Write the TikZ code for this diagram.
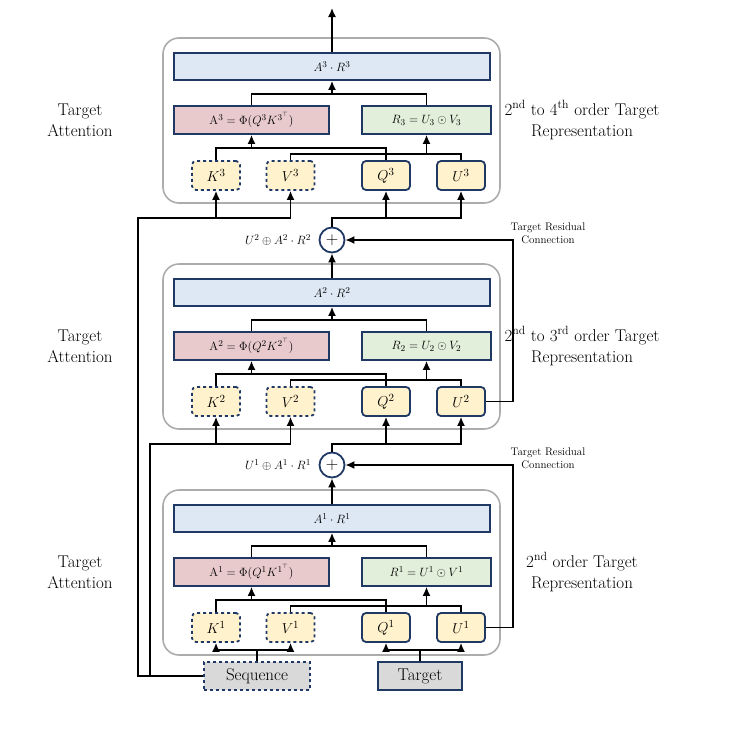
\documentclass[tikz,border=0pt]{standalone}
\usepackage{amsmath,amssymb}
\usetikzlibrary{arrows.meta}
\definecolor{navy}{HTML}{1F3864}
\definecolor{fblue}{HTML}{DDE8F4}
\definecolor{fred}{HTML}{E8CACD}
\definecolor{fgreen}{HTML}{E2EFDA}
\definecolor{fyel}{HTML}{FFF2CC}
\definecolor{fgray}{HTML}{D9D9D9}
\begin{document}
\begin{tikzpicture}[x=1pt,y=-1pt,line width=1.5pt,
 bx/.style={draw=navy,line width=1.8pt,inner sep=0pt,font=\fontsize{13}{15}\selectfont},
 tok/.style={bx,fill=fyel,rounded corners=4pt,minimum width=48pt,minimum height=29pt,font=\fontsize{15}{17}\selectfont},
 dtok/.style={tok,dashed},
 outer/.style={draw=gray!65,line width=1.6pt,rounded corners=16pt},
 arr/.style={-{Latex[length=9pt,width=8pt]}},
 side/.style={align=center,font=\fontsize{17}{21}\selectfont},
 small/.style={align=center,font=\fontsize{11}{13}\selectfont}]
\useasboundingbox (0,0) rectangle (736,736);
\foreach \i/\o/\rr/\rt in {3/0/{R_3 = U_3 \odot V_3}/{2\textsuperscript{nd} to 4\textsuperscript{th} order Target\\Representation},
                     2/226/{R_2 = U_2 \odot V_2}/{2\textsuperscript{nd} to 3\textsuperscript{rd} order Target\\Representation},
                     1/452/{R^1 = U^1 \odot V^1}/{2\textsuperscript{nd} order Target\\Representation}}{
 \node[outer,minimum width=337pt,minimum height=165pt] (O\i) at (331.5,120.5+\o) {};
 \node[bx,fill=fblue,minimum width=316pt,minimum height=27pt] (B\i) at (332,66.5+\o) {$A^{\i}\cdot R^{\i}$};
 \node[bx,fill=fred,minimum width=155pt,minimum height=28pt] (A\i) at (251.5,120+\o) {$\mathrm{A}^{\i} = \Phi(Q^{\i}K^{\i^{\top}})$};
 \node[bx,fill=fgreen,minimum width=129pt,minimum height=28pt] (R\i) at (426.5,120+\o) {$\rr$};
 \node[dtok] (K\i) at (216,175.5+\o) {$K^{\i}$};
 \node[dtok] (V\i) at (290.5,175.5+\o) {$V^{\i}$};
 \node[tok] (Q\i) at (386,175.5+\o) {$Q^{\i}$};
 \node[tok] (U\i) at (461,175.5+\o) {$U^{\i}$};
 \node[side] (TA\i) at (80,120+\o) {Target\\Attention};
 \node[side] (TR\i) at (582,120+\o) {\rt};
 \coordinate (j1\i) at (0,148+\o);
 \coordinate (j2\i) at (0,154+\o);
 \coordinate (j3\i) at (0,94+\o);
 \draw (K\i.north) |- (Q\i.north |- j1\i) -- (Q\i.north);
 \draw[arr] (A\i.south |- j1\i) -- (A\i.south);
 \draw (V\i.north) |- (U\i.north |- j2\i) -- (U\i.north);
 \draw[arr] (R\i.south |- j2\i) -- (R\i.south);
 \draw (A\i.north) |- (R\i.north |- j3\i) -- (R\i.north);
 \draw[arr] (B\i.south |- j3\i) -- (B\i.south);
}
\node[circle,draw=navy,line width=1.8pt,minimum size=25pt,inner sep=0pt,font=\LARGE] (P2) at (332,240) {$+$};
\node[circle,draw=navy,line width=1.8pt,minimum size=25pt,inner sep=0pt,font=\LARGE] (P1) at (332,465) {$+$};
\node[anchor=east,font=\fontsize{13}{15}\selectfont] (L2) at (P2.west) {$U^2\oplus A^2\cdot R^2$\;};
\node[anchor=east,font=\fontsize{13}{15}\selectfont] (L1) at (P1.west) {$U^1\oplus A^1\cdot R^1$\;};
\node[small] (C2) at (548,233) {Target Residual\\Connection};
\node[small] (C1) at (548,458) {Target Residual\\Connection};
\node[bx,fill=fgray,dashed,minimum width=106pt,minimum height=28pt,font=\fontsize{17}{19}\selectfont] (S) at (257,676) {Sequence};
\node[bx,fill=fgray,minimum width=84pt,minimum height=28pt,font=\fontsize{17}{19}\selectfont] (T) at (420,676) {Target};
\coordinate (top) at (332,8);
\draw[arr] (B3.north) -- (top);
\draw[arr] (B1.north) -- (P1.south);
\draw[arr] (B2.north) -- (P2.south);
\coordinate (h3) at (0,218); \coordinate (h2) at (0,444); \coordinate (h1) at (0,650);
\draw (P2.north) |- (Q3.south |- h3);
\draw[arr] (Q3.south |- h3) -- (Q3.south);
\draw[arr] (Q3.south |- h3) -| (U3.south);
\draw (P1.north) |- (Q2.south |- h2);
\draw[arr] (Q2.south |- h2) -- (Q2.south);
\draw[arr] (Q2.south |- h2) -| (U2.south);
\draw (T.north) |- (Q1.south |- h1);
\draw[arr] (T.north |- h1) -| (Q1.south);
\draw[arr] (T.north |- h1) -| (U1.south);
\draw (S.north) |- (K1.south |- h1);
\draw[arr] (S.north |- h1) -| (K1.south);
\draw[arr] (S.north |- h1) -| (V1.south);
\coordinate (s3) at (138,218); \coordinate (s2) at (150,444);
\draw[line width=2pt] (S.west) -| (s3) -- (K3.south |- h3);
\draw[arr] (K3.south |- h3) -- (K3.south);
\draw[arr] (K3.south |- h3) -| (V3.south);
\draw (S.west -| s2) -- (s2) -- (K2.south |- h2);
\draw[arr] (K2.south |- h2) -- (K2.south);
\draw[arr] (K2.south |- h2) -| (V2.south);
\coordinate (r) at (513,0);
\draw[arr] (U1.east) -| (r |- P1) -- (P1.east);
\draw[arr] (U2.east) -| (r |- P2) -- (P2.east);
\end{tikzpicture}
\end{document}
